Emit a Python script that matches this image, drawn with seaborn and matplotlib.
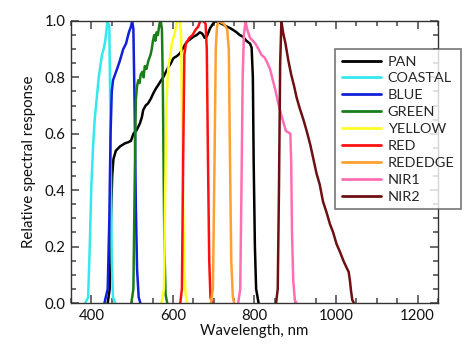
import numpy as np
import pandas as pd
import matplotlib
matplotlib.use("Agg")
import matplotlib.pyplot as plt
from matplotlib.ticker import MultipleLocator
import seaborn as sns

# Relative spectral response curves (wavelength in nm, response 0..1)
pan_nm = [440, 445, 448, 451, 454, 460, 470, 482, 490, 497, 503, 511, 519, 524, 527, 533, 539,
          546, 552, 558, 564, 570, 576, 583, 589, 595, 601, 609, 617, 625, 634, 642, 650, 658,
          666, 672, 678, 683, 691, 698, 704, 712, 720, 732, 740, 748, 756, 764, 772, 780, 789,
          793, 796, 798, 801, 804, 810]
pan_r = [0, 0.05, 0.3, 0.45, 0.51, 0.54, 0.555, 0.566, 0.57, 0.575, 0.6, 0.613, 0.637, 0.66,
         0.684, 0.7, 0.708, 0.725, 0.744, 0.76, 0.773, 0.787, 0.8, 0.82, 0.837, 0.85, 0.868,
         0.875, 0.885, 0.905, 0.926, 0.935, 0.944, 0.95, 0.96, 0.955, 0.94, 0.945, 0.974, 0.99,
         1.0, 0.995, 0.99, 0.98, 0.975, 0.968, 0.96, 0.95, 0.944, 0.93, 0.92, 0.905, 0.8, 0.5,
         0.2, 0.05, 0]

coastal_nm = [385, 392, 396, 400, 404, 408, 414, 418, 422, 426, 430, 434, 438, 440, 444, 447,
              450, 453, 458]
coastal_r = [0, 0.02, 0.2, 0.42, 0.55, 0.65, 0.74, 0.8, 0.84, 0.88, 0.9, 0.93, 0.98, 1.0, 0.98,
             0.6, 0.15, 0.02, 0]

blue_nm = [432, 440, 444, 447, 450, 453, 458, 463, 470, 478, 485, 492, 497, 500, 503, 506, 509,
           512, 516, 520]
blue_r = [0, 0.05, 0.3, 0.6, 0.75, 0.79, 0.81, 0.83, 0.86, 0.9, 0.92, 0.96, 0.98, 1.0, 0.97,
          0.7, 0.35, 0.12, 0.02, 0]

green_nm = [498, 503, 506, 509, 512, 515, 518, 521, 525, 528, 531, 535, 540, 545, 548, 551, 554,
            557, 560, 563, 567, 570, 573, 575, 577, 579, 582, 586]
green_r = [0, 0.05, 0.4, 0.72, 0.77, 0.79, 0.78, 0.81, 0.82, 0.8, 0.84, 0.83, 0.86, 0.88, 0.9,
           0.93, 0.95, 0.93, 0.96, 0.95, 0.99, 1.0, 0.97, 0.8, 0.5, 0.2, 0.03, 0]

yellow_nm = [572, 578, 581, 584, 587, 590, 593, 597, 601, 605, 609, 612, 617, 620, 622, 625, 628,
             631, 635]
yellow_r = [0, 0.05, 0.4, 0.7, 0.8, 0.85, 0.87, 0.92, 0.94, 0.96, 0.99, 1.0, 1.0, 0.95, 0.7,
            0.35, 0.12, 0.03, 0]

red_nm = [618, 622, 625, 628, 632, 640, 648, 656, 662, 667, 675, 680, 683, 686, 689, 692, 696]
red_r = [0, 0.05, 0.5, 0.88, 0.92, 0.94, 0.95, 0.97, 0.98, 1.0, 1.0, 0.99, 0.9, 0.5, 0.15, 0.02, 0]

rededge_nm = [693, 698, 702, 705, 708, 712, 725, 733, 737, 740, 743, 747, 750]
rededge_r = [0, 0.05, 0.5, 0.9, 0.98, 1.0, 0.99, 0.97, 0.9, 0.5, 0.15, 0.02, 0]

nir1_nm = [760, 765, 768, 771, 774, 778, 782, 789, 796, 802, 810, 817, 825, 832, 838, 845, 852,
           858, 865, 871, 877, 883, 888, 890, 892, 895, 899, 903]
nir1_r = [0, 0.05, 0.4, 0.8, 0.95, 1.0, 0.97, 0.94, 0.93, 0.92, 0.9, 0.88, 0.87, 0.85, 0.83,
          0.79, 0.75, 0.71, 0.67, 0.64, 0.61, 0.605, 0.6, 0.5, 0.25, 0.08, 0.01, 0]

nir2_nm = [853, 857, 860, 863, 866, 870, 876, 883, 890, 897, 903, 911, 920, 928, 937, 946, 952,
           960, 968, 977, 985, 993, 1001, 1010, 1018, 1026, 1031, 1034, 1037, 1040, 1044]
nir2_r = [0, 0.05, 0.4, 0.85, 1.0, 0.96, 0.92, 0.86, 0.81, 0.77, 0.73, 0.69, 0.65, 0.61, 0.56,
          0.5, 0.46, 0.42, 0.36, 0.32, 0.28, 0.25, 0.21, 0.18, 0.15, 0.125, 0.11, 0.08, 0.04,
          0.01, 0]

bands = ["PAN", "COASTAL", "BLUE", "GREEN", "YELLOW", "RED", "REDEDGE", "NIR1", "NIR2"]
band_data = [(pan_nm, pan_r), (coastal_nm, coastal_r), (blue_nm, blue_r), (green_nm, green_r),
             (yellow_nm, yellow_r), (red_nm, red_r), (rededge_nm, rededge_r),
             (nir1_nm, nir1_r), (nir2_nm, nir2_r)]
band_colors = ["#000000", "#33e8ee", "#1020d8", "#1a7d1a", "#ffff22", "#ff1010", "#ffa030",
               "#ff6eb0", "#6e0f12"]

frames = []
for name, (wl, resp) in zip(bands, band_data):
    frames.append(pd.DataFrame({"Wavelength": wl, "Response": resp, "Band": name}))
df = pd.concat(frames, ignore_index=True)

sns.set_theme(style="white")
plt.rcParams["font.family"] = ["Lato", "DejaVu Sans"]

fig = plt.figure(figsize=(4.74, 3.47), dpi=100)
ax = fig.add_axes([0.1498, 0.1268, 0.7742, 0.8127])

sns.lineplot(data=df, x="Wavelength", y="Response", hue="Band", hue_order=bands,
             palette=dict(zip(bands, band_colors)), sort=False, estimator=None,
             linewidth=1.8, ax=ax, legend=False)

ax.set_xlim(350, 1250)
ax.set_ylim(0, 1.0)
ax.xaxis.set_major_locator(MultipleLocator(200))
ax.xaxis.set_minor_locator(MultipleLocator(50))
ax.yaxis.set_major_locator(MultipleLocator(0.2))
ax.yaxis.set_minor_locator(MultipleLocator(0.05))
ax.yaxis.set_major_formatter(matplotlib.ticker.FormatStrFormatter("%.1f"))

for s in ax.spines.values():
    s.set_color("#333333")
    s.set_linewidth(1.0)
ax.tick_params(which="both", direction="in", top=True, right=True, bottom=True, left=True,
               color="#444444", width=1.1, labelsize=10.8, labelcolor="#111111", pad=4)
ax.tick_params(which="major", length=6)
ax.tick_params(which="minor", length=3.5)

ax.set_xlabel("Wavelength, nm", fontsize=10.8, color="#111111", labelpad=1)
ax.set_ylabel("Relative spectral response", fontsize=10.8, color="#111111", labelpad=6)

handles = [matplotlib.lines.Line2D([], [], color=c, lw=2.0) for c in band_colors]
leg = fig.legend(handles, bands, loc="upper left", bbox_to_anchor=(0.7068, 0.8588),
                 frameon=True, fancybox=False, fontsize=10.4, handlelength=2.7,
                 handletextpad=0.5, labelspacing=0.33, borderpad=0.45, borderaxespad=0)
leg.get_frame().set_edgecolor("#555555")
leg.get_frame().set_linewidth(1.2)
leg.get_frame().set_facecolor("white")

fig.savefig("out.png", dpi=100)
